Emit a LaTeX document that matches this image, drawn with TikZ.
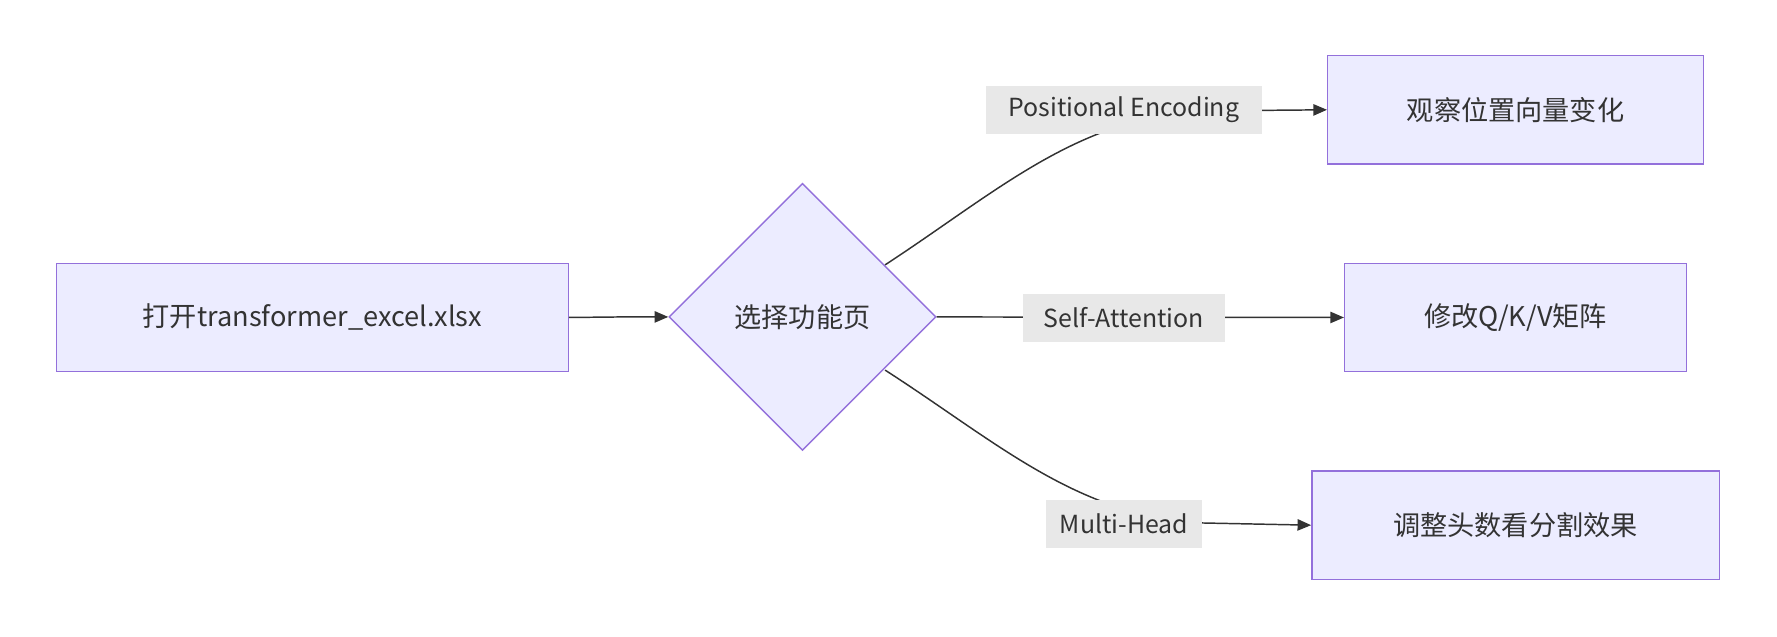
\documentclass[tikz,border=0pt]{standalone}
\usepackage{fontspec}
\setmainfont{Noto Sans CJK SC}
\usetikzlibrary{shapes.geometric,arrows.meta}
\definecolor{boxfill}{HTML}{ECECFF}
\definecolor{boxline}{HTML}{9370DB}
\definecolor{txt}{HTML}{333333}
\definecolor{lblbg}{HTML}{E8E8E8}
\begin{document}
\begin{tikzpicture}[x=1pt,y=-1pt,
  box/.style={draw=boxline,fill=boxfill,line width=1.2pt,text=txt,font=\fontsize{24}{28}\selectfont,inner sep=0pt},
  lbl/.style={fill=lblbg,text=txt,font=\fontsize{22}{26}\selectfont,inner sep=0pt,minimum height=42pt},
  conn/.style={draw=txt,line width=1.3pt,-{Triangle[length=12pt,width=10pt]}}]
\useasboundingbox (0,0) rectangle (1570,562);
\node[box,minimum width=452pt,minimum height=95pt] (start) at (276,280.5) {打开transformer\_excel.xlsx};
\node[box,diamond,aspect=1,minimum width=236pt,minimum height=236pt] (d) at (709,280) {选择功能页};
\node[box,minimum width=332pt,minimum height=96pt] (a) at (1339,97) {观察位置向量变化};
\node[box,minimum width=302pt,minimum height=95pt] (b) at (1339,280.5) {修改Q/K/V矩阵};
\node[box,minimum width=360pt,minimum height=96pt] (c) at (1339,464) {调整头数看分割效果};
\draw[conn] (start.east) -- (550,280) -- (d.west);
\draw[conn] (782,234) .. controls (880,170) and (950,105) .. (1060,98) -- (a.west);
\draw[conn] (d.east) -- (b.west);
\draw[conn] (782,327) .. controls (880,390) and (950,455) .. (1060,462) -- (c.west);
\node[lbl,minimum width=244pt] (la) at (993,97) {Positional Encoding};
\node[lbl,minimum width=178pt] (lb) at (993,281) {Self-Attention};
\node[lbl,minimum width=138pt] (lc) at (993,463) {Multi-Head};
\end{tikzpicture}
\end{document}
